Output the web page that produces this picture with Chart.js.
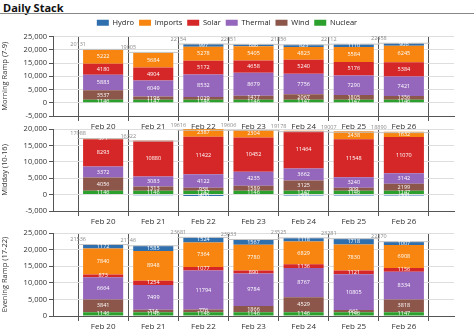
<!DOCTYPE html>
<html><head><meta charset="utf-8">
<script src="https://cdn.jsdelivr.net/npm/chart.js@4/dist/chart.umd.min.js"></script>
<style>
html,body{margin:0;padding:0;background:#fff;width:474px;height:335px;overflow:hidden;font-family:"Open Sans",sans-serif;}
#title{position:absolute;left:3px;top:0px;font:bold 11px "Open Sans",sans-serif;color:#111;}
#rule{position:absolute;left:0;top:13px;width:474px;height:1px;background:#888;}
canvas{position:absolute;left:0;}
</style></head><body>
<div id="title">Daily Stack</div>
<div id="rule"></div>
<canvas id="c1" style="top:14px" width="474" height="118"></canvas>
<canvas id="c2" style="top:122px" width="474" height="105"></canvas>
<canvas id="c3" style="top:226px" width="474" height="106"></canvas>
<script>
const categories = ['', 'Feb 20', 'Feb 21', 'Feb 22', 'Feb 23', 'Feb 24', 'Feb 25', 'Feb 26', ''];
const seriesNames = ['Hydro', 'Imports', 'Solar', 'Thermal', 'Wind', 'Nuclear'];
const seriesColors = ['#2f6fae', '#f7850f', '#d62728', '#9467bd', '#8c564b', '#2ca02c'];

// Morning Ramp (7-9)
const morningNuclear = [1146, 1147, 1146, 1146, 1147, 1147, 1146];
const morningWind    = [3537, 1196, 1029, 1477, 2067, 1805, 1356];
const morningThermal = [5883, 6049, 8532, 8679, 7756, 7290, 7421];
const morningSolar   = [4180, 4904, 5172, 4658, 5240, 5176, 5384];
const morningImports = [5222, 5684, 5278, 5405, 4823, 5584, 6245];
const morningHydro   = [163, 25, 997, 686, 823, 1110, 906];

// Midday (10-16)
const middayNuclear = [1146, 1146, 1147, 1146, 1147, 1146, 1147];
const middayWind    = [4056, 1313, 938, 1589, 3125, 909, 2199];
const middayThermal = [3372, 3083, 4122, 4235, 3662, 3240, 3142];
const middaySolar   = [8293, 10880, 11422, 10452, 11464, 11548, 11070];
const middayImports = [371, 100, 2387, 2304, 80, 2438, 1632];
const middayHydro   = [-150, -200, -400, -120, -300, -274, -300];

// Evening Ramp (17-22)
const eveningNuclear = [1146, 1146, 1146, 1146, 1146, 1146, 1147];
const eveningWind    = [3841, 714, 776, 1866, 4529, 661, 3818];
const eveningThermal = [6664, 7499, 11794, 9784, 8767, 10805, 8334];
const eveningSolar   = [873, 1254, 1077, 890, 1136, 1121, 1156];
const eveningImports = [7840, 8948, 7364, 7780, 6829, 7830, 6908];
const eveningHydro   = [1172, 1585, 1524, 1567, 1118, 1718, 1007];

const yTicksMorning = {min: -5000, max: 25000, step: 5000};
const yTicksMidday  = {min: -5000, max: 20000, step: 5000};
const yTicksEvening = {min: 0, max: 25000, step: 5000};

const FONT = '"Open Sans", sans-serif';

function pad(arr){ return [null, ...arr, null]; }

function buildDatasets(h, im, so, th, wi, nu){
  const vals = [h, im, so, th, wi, nu];
  const ds = [];
  for (let i = 5; i >= 0; i--) {
    ds.push({type:'bar', label: seriesNames[i], data: pad(vals[i]), backgroundColor: seriesColors[i],
      borderWidth:0, stack:'s', order: 1, barPercentage:1.0, categoryPercentage:0.8});
  }
  const totals = h.map((_, k) => vals.reduce((s, a) => s + a[k], 0));
  ds.push({type:'line', label:'Total', data: pad(totals), showLine:false, pointStyle:'line',
    pointRadius:26, pointHoverRadius:26, borderColor:'#c4c4c4', borderWidth:1, order:0, stack:'t', isTotal:true});
  return ds;
}

const labelPlugin = {
  id:'segLabels',
  afterDatasetsDraw(chart){
    const ctx = chart.ctx;
    ctx.save();
    ctx.textAlign = 'center';
    ctx.textBaseline = 'middle';
    chart.data.datasets.forEach((ds, i) => {
      const meta = chart.getDatasetMeta(i);
      meta.data.forEach((el, k) => {
        const v = ds.data[k];
        if (v === null || v === undefined) return;
        if (ds.isTotal) {
          ctx.font = '5.5px ' + FONT;
          ctx.fillStyle = '#8a8a8a';
          ctx.fillText(String(v), el.x - 25, el.y - 5);
        } else {
          if (Math.abs(v) < 300) return;
          ctx.font = '5.5px ' + FONT;
          ctx.fillStyle = '#ffffff';
          ctx.fillText(String(v), el.x, (el.y + el.base) / 2);
        }
      });
    });
    ctx.restore();
  }
};

function makeChart(id, title, ds, yt, showLegend, padTop){
  return new Chart(document.getElementById(id), {
    data: {labels: categories, datasets: ds},
    plugins: [labelPlugin],
    options: {
      responsive:false, animation:false, events:[],
      layout:{autoPadding:false, padding:{top:padTop, right:20, left:0, bottom:0}},
      plugins:{
        legend:{display:showLegend, position:'top',
          labels:{filter:(it)=>it.text!=='Total', boxWidth:12, boxHeight:6, padding:5,
            color:'#222', font:{size:7.5, family:FONT},
            sort:(a,b)=>seriesNames.indexOf(a.text)-seriesNames.indexOf(b.text)}},
        tooltip:{enabled:false}
      },
      scales:{
        x:{stacked:true, offset:false,
          grid:{color:'#555', lineWidth:1, tickLength:5, tickColor:'#555', drawOnChartArea:true},
          border:{color:'#555'},
          ticks:{color:'#333', font:{size:8, family:FONT}, padding:1, maxRotation:0, autoSkip:false},
          afterFit:(s)=>{s.height = 16;}
        },
        y:{stacked:true, min:yt.min, max:yt.max,
          grid:{color:'#dedede', tickColor:'#555', tickLength:4},
          border:{color:'#555'},
          ticks:{stepSize:yt.step, color:'#333', font:{size:7.5, family:FONT}, padding:2},
          title:{display:true, text:title, color:'#333', font:{size:7.5, family:FONT}, padding:{top:0,bottom:4}},
          afterFit:(s)=>{s.width = 53;}
        }
      }
    }
  });
}

makeChart('c1', 'Morning Ramp (7-9)',
  buildDatasets(morningHydro, morningImports, morningSolar, morningThermal, morningWind, morningNuclear),
  yTicksMorning, true, 0);
makeChart('c2', 'Midday (10-16)',
  buildDatasets(middayHydro, middayImports, middaySolar, middayThermal, middayWind, middayNuclear),
  yTicksMidday, false, 7);
makeChart('c3', 'Evening Ramp (17-22)',
  buildDatasets(eveningHydro, eveningImports, eveningSolar, eveningThermal, eveningWind, eveningNuclear),
  yTicksEvening, false, 7);
</script>
</body></html>
